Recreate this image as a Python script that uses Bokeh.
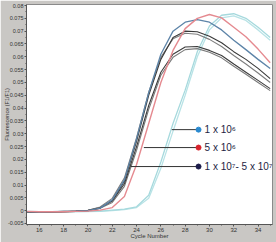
import math
from bokeh.plotting import figure
from bokeh.models import FixedTicker, CustomJSTickFormatter, Range1d
from bokeh.core.properties import value
from bokeh.embed import file_html
from bokeh.resources import INLINE

# ---- data ----
cycles = list(range(15, 36))

dark_a = [-0.0004, -0.0005, -0.0004, -0.0003, -0.0002, 0.0, 0.0010, 0.0040, 0.0115, 0.0270,
          0.0450, 0.0590, 0.0675, 0.0700, 0.0698, 0.0680, 0.0655, 0.0620, 0.0590, 0.0555, 0.0515]
dark_b = [-0.0006, -0.0006, -0.0005, -0.0004, -0.0003, 0.0001, 0.0014, 0.0048, 0.0128, 0.0285,
          0.0462, 0.0598, 0.0670, 0.0692, 0.0688, 0.0668, 0.0640, 0.0605, 0.0572, 0.0537, 0.0500]
dark_c = [-0.0005, -0.0006, -0.0005, -0.0004, -0.0002, 0.0001, 0.0012, 0.0038, 0.0105, 0.0250,
          0.0410, 0.0540, 0.0610, 0.0638, 0.0640, 0.0625, 0.0605, 0.0572, 0.0540, 0.0508, 0.0476]
dark_d = [-0.0007, -0.0007, -0.0006, -0.0005, -0.0003, 0.0, 0.0009, 0.0032, 0.0095, 0.0235,
          0.0395, 0.0528, 0.0598, 0.0628, 0.0632, 0.0618, 0.0596, 0.0563, 0.0532, 0.0500, 0.0468]
blue = [-0.0004, -0.0005, -0.0004, -0.0003, -0.0002, 0.0, 0.0010, 0.0042, 0.0120, 0.0280,
        0.0460, 0.0610, 0.0700, 0.0735, 0.0745, 0.0735, 0.0705, 0.0665, 0.0628, 0.0590, 0.0554]
red = [-0.0003, -0.0004, -0.0004, -0.0004, -0.0003, -0.0002, 0.0002, 0.0012, 0.0055, 0.0180,
       0.0340, 0.0500, 0.0625, 0.0710, 0.0750, 0.0765, 0.0752, 0.0715, 0.0678, 0.0630, 0.0577]
cyan_a = [-0.0003, -0.0004, -0.0004, -0.0004, -0.0004, -0.0003, -0.0002, 0.0002, 0.0006, 0.0015,
          0.0060, 0.0190, 0.0340, 0.0470, 0.0620, 0.0720, 0.0762, 0.0768, 0.0750, 0.0715, 0.0675]
cyan_b = [-0.0004, -0.0005, -0.0005, -0.0005, -0.0004, -0.0004, -0.0003, 0.0, 0.0004, 0.0012,
          0.0048, 0.0165, 0.0310, 0.0450, 0.0600, 0.0705, 0.0752, 0.0760, 0.0742, 0.0705, 0.0665]

x_ticks = [16, 18, 20, 22, 24, 26, 28, 30, 32, 34]
y_ticks = [-0.005, 0, 0.005, 0.01, 0.015, 0.02, 0.025, 0.03, 0.035, 0.04,
           0.045, 0.05, 0.055, 0.06, 0.065, 0.07, 0.075, 0.08]

legend_labels = ["1 x 10\u2076", "5 x 10\u2076", "1 x 10\u2077- 5 x 10\u2077"]
legend_y = [0.0316, 0.0246, 0.0172]
legend_x_start = [26.9, 24.6, 23.5]
legend_dot_x = [29.1, 29.1, 29.1]
legend_colors = ["#2a8ad0", "#d9232c", "#1c1c4a"]

# ---- figure ----
p = figure(width=276, height=242, output_backend="svg", toolbar_location=None,
           x_range=Range1d(14.94, 35.19), y_range=Range1d(-0.0054, 0.0804),
           min_border_left=23, min_border_right=4, min_border_top=4, min_border_bottom=18)
p.border_fill_color = "#c9c7c4"
p.background_fill_color = "white"
p.outline_line_color = "#8a8a8a"
p.grid.visible = False

font = "Liberation Sans"

series = [
    (cyan_b, "#b9e3e6", 1.3),
    (cyan_a, "#a6d9dd", 1.3),
    (dark_d, "#7a7a7a", 1.1),
    (dark_c, "#3c3c3c", 1.1),
    (dark_b, "#7e7e7e", 1.1),
    (dark_a, "#3a3a3a", 1.1),
    (blue, "#5d84a8", 1.3),
    (red, "#e58a90", 1.4),
]
for ys, col, w in series:
    p.line(cycles, ys, line_color=col, line_width=w)

# legend call-outs
for lbl, ly, lx0, dx, c in zip(legend_labels, legend_y, legend_x_start, legend_dot_x, legend_colors):
    p.line([lx0, dx], [ly, ly], line_color="#333333", line_width=1)
p.scatter(legend_dot_x, legend_y, size=5, fill_color=legend_colors, line_color=legend_colors)
p.text([d + 0.5 for d in legend_dot_x], legend_y, text=legend_labels,
       text_font=value(font), text_font_size="10px", text_color="#1e1e44",
       text_baseline="middle", text_align="left")

# axes
p.xaxis.ticker = FixedTicker(ticks=x_ticks, minor_ticks=list(range(15, 36)))
p.yaxis.ticker = FixedTicker(ticks=y_ticks,
                             minor_ticks=[round(-0.005 + 0.0025 * i, 4) for i in range(35)])
p.yaxis.formatter = CustomJSTickFormatter(code="return String(Math.round(tick*1000)/1000);")
for ax in (p.xaxis[0], p.yaxis[0]):
    ax.axis_line_color = "#555555"
    ax.major_tick_line_color = "#555555"
    ax.minor_tick_line_color = "#555555"
    ax.major_tick_out = 2
    ax.major_tick_in = 0
    ax.minor_tick_out = 1
    ax.minor_tick_in = 0
    ax.major_label_text_font = font
    ax.major_label_text_color = "#333333"
    ax.major_label_standoff = 1
    ax.axis_label_text_font = font
    ax.axis_label_text_font_style = "normal"
    ax.axis_label_text_color = "#333333"

p.yaxis.major_label_text_font_size = "5.5px"
p.xaxis.major_label_text_font_size = "6px"
p.yaxis.axis_label = "Fluorescence (F1/F1)"
p.yaxis.axis_label_text_font_size = "5.5px"
p.yaxis.axis_label_standoff = -5
p.xaxis.axis_label = "Cycle Number"
p.xaxis.axis_label_text_font_size = "6px"
p.xaxis.axis_label_standoff = -2

open("out.html", "w").write(file_html(p, INLINE))
